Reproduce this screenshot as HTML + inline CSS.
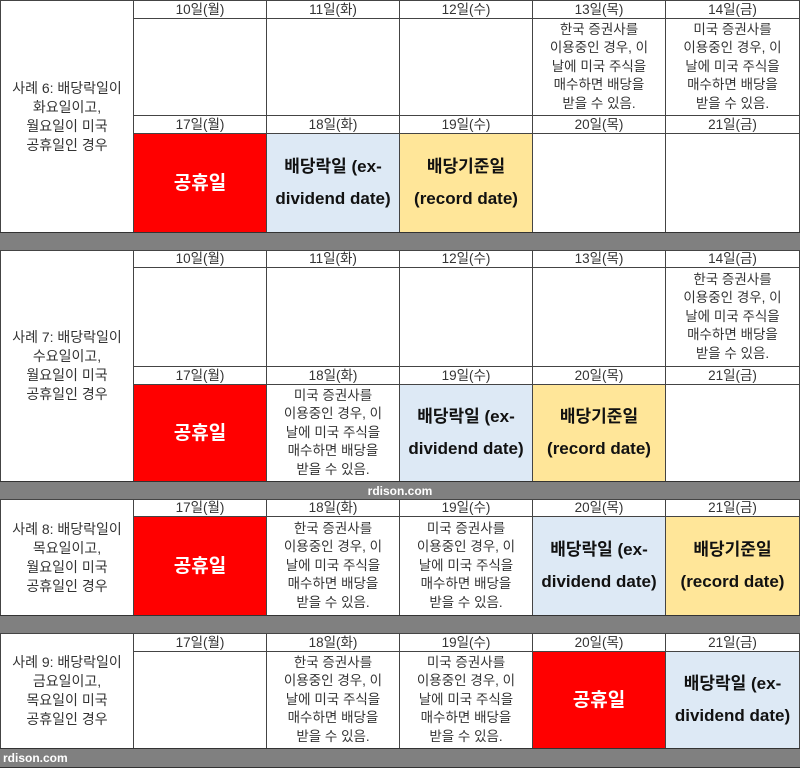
<!DOCTYPE html>
<html><head><meta charset="utf-8"><style>
*{margin:0;padding:0;box-sizing:border-box}
body{width:800px;height:768px;background:#fff;position:relative;overflow:hidden;font-family:"Liberation Sans","Noto Sans CJK KR","NanumGothic",sans-serif;color:#333}
.c{position:absolute;border:1px solid #444;display:flex;align-items:center;justify-content:center;text-align:center;font-size:14px;line-height:19px}
.h{font-size:13.5px;line-height:16px;color:#333}
.n{font-size:13.5px;line-height:18.5px;color:#333}
.red{background:#ff0000;color:#fff;font-weight:bold;font-size:19px}
.blue{background:#dde9f5;color:#111;font-weight:bold;font-size:17px;line-height:32px}
.yel{background:#ffe699;color:#111;font-weight:bold;font-size:17px;line-height:32px}
.g{position:absolute;left:0;width:800px;background:#808080;color:#fff;font-size:12px;font-weight:bold;display:flex;align-items:center;justify-content:center;border-top:1px solid #333;border-bottom:1px solid #333}
</style></head><body>

<!-- Section 1 -->
<div class="c" style="left:0;top:0;width:134px;height:233px">사례 6: 배당락일이<br>화요일이고,<br>월요일이 미국<br>공휴일인 경우</div>
<div class="c h" style="left:133px;top:0;width:134px;height:19px">10일(월)</div>
<div class="c h" style="left:266px;top:0;width:134px;height:19px">11일(화)</div>
<div class="c h" style="left:399px;top:0;width:134px;height:19px">12일(수)</div>
<div class="c h" style="left:532px;top:0;width:134px;height:19px">13일(목)</div>
<div class="c h" style="left:665px;top:0;width:135px;height:19px">14일(금)</div>
<div class="c" style="left:133px;top:18px;width:134px;height:98px"></div>
<div class="c" style="left:266px;top:18px;width:134px;height:98px"></div>
<div class="c" style="left:399px;top:18px;width:134px;height:98px"></div>
<div class="c n" style="left:532px;top:18px;width:134px;height:98px">한국 증권사를<br>이용중인 경우, 이<br>날에 미국 주식을<br>매수하면 배당을<br>받을 수 있음.</div>
<div class="c n" style="left:665px;top:18px;width:135px;height:98px">미국 증권사를<br>이용중인 경우, 이<br>날에 미국 주식을<br>매수하면 배당을<br>받을 수 있음.</div>
<div class="c h" style="left:133px;top:115px;width:134px;height:19px">17일(월)</div>
<div class="c h" style="left:266px;top:115px;width:134px;height:19px">18일(화)</div>
<div class="c h" style="left:399px;top:115px;width:134px;height:19px">19일(수)</div>
<div class="c h" style="left:532px;top:115px;width:134px;height:19px">20일(목)</div>
<div class="c h" style="left:665px;top:115px;width:135px;height:19px">21일(금)</div>
<div class="c red" style="left:133px;top:133px;width:134px;height:100px">공휴일</div>
<div class="c blue" style="left:266px;top:133px;width:134px;height:100px">배당락일 (ex-<br>dividend date)</div>
<div class="c yel" style="left:399px;top:133px;width:134px;height:100px">배당기준일<br>(record date)</div>
<div class="c" style="left:532px;top:133px;width:134px;height:100px"></div>
<div class="c" style="left:665px;top:133px;width:135px;height:100px"></div>
<div class="g" style="top:232px;height:19px"></div>

<!-- Section 2 -->
<div class="c" style="left:0;top:250px;width:134px;height:232px">사례 7: 배당락일이<br>수요일이고,<br>월요일이 미국<br>공휴일인 경우</div>
<div class="c h" style="left:133px;top:250px;width:134px;height:18px">10일(월)</div>
<div class="c h" style="left:266px;top:250px;width:134px;height:18px">11일(화)</div>
<div class="c h" style="left:399px;top:250px;width:134px;height:18px">12일(수)</div>
<div class="c h" style="left:532px;top:250px;width:134px;height:18px">13일(목)</div>
<div class="c h" style="left:665px;top:250px;width:135px;height:18px">14일(금)</div>
<div class="c" style="left:133px;top:267px;width:134px;height:100px"></div>
<div class="c" style="left:266px;top:267px;width:134px;height:100px"></div>
<div class="c" style="left:399px;top:267px;width:134px;height:100px"></div>
<div class="c" style="left:532px;top:267px;width:134px;height:100px"></div>
<div class="c n" style="left:665px;top:267px;width:135px;height:100px">한국 증권사를<br>이용중인 경우, 이<br>날에 미국 주식을<br>매수하면 배당을<br>받을 수 있음.</div>
<div class="c h" style="left:133px;top:366px;width:134px;height:19px">17일(월)</div>
<div class="c h" style="left:266px;top:366px;width:134px;height:19px">18일(화)</div>
<div class="c h" style="left:399px;top:366px;width:134px;height:19px">19일(수)</div>
<div class="c h" style="left:532px;top:366px;width:134px;height:19px">20일(목)</div>
<div class="c h" style="left:665px;top:366px;width:135px;height:19px">21일(금)</div>
<div class="c red" style="left:133px;top:384px;width:134px;height:98px">공휴일</div>
<div class="c n" style="left:266px;top:384px;width:134px;height:98px">미국 증권사를<br>이용중인 경우, 이<br>날에 미국 주식을<br>매수하면 배당을<br>받을 수 있음.</div>
<div class="c blue" style="left:399px;top:384px;width:134px;height:98px">배당락일 (ex-<br>dividend date)</div>
<div class="c yel" style="left:532px;top:384px;width:134px;height:98px">배당기준일<br>(record date)</div>
<div class="c" style="left:665px;top:384px;width:135px;height:98px"></div>
<div class="g" style="top:481px;height:19px">rdison.com</div>

<!-- Section 3 -->
<div class="c" style="left:0;top:499px;width:134px;height:117px">사례 8: 배당락일이<br>목요일이고,<br>월요일이 미국<br>공휴일인 경우</div>
<div class="c h" style="left:133px;top:499px;width:134px;height:18px">17일(월)</div>
<div class="c h" style="left:266px;top:499px;width:134px;height:18px">18일(화)</div>
<div class="c h" style="left:399px;top:499px;width:134px;height:18px">19일(수)</div>
<div class="c h" style="left:532px;top:499px;width:134px;height:18px">20일(목)</div>
<div class="c h" style="left:665px;top:499px;width:135px;height:18px">21일(금)</div>
<div class="c red" style="left:133px;top:516px;width:134px;height:100px">공휴일</div>
<div class="c n" style="left:266px;top:516px;width:134px;height:100px">한국 증권사를<br>이용중인 경우, 이<br>날에 미국 주식을<br>매수하면 배당을<br>받을 수 있음.</div>
<div class="c n" style="left:399px;top:516px;width:134px;height:100px">미국 증권사를<br>이용중인 경우, 이<br>날에 미국 주식을<br>매수하면 배당을<br>받을 수 있음.</div>
<div class="c blue" style="left:532px;top:516px;width:134px;height:100px">배당락일 (ex-<br>dividend date)</div>
<div class="c yel" style="left:665px;top:516px;width:135px;height:100px">배당기준일<br>(record date)</div>
<div class="g" style="top:615px;height:19px"></div>

<!-- Section 4 -->
<div class="c" style="left:0;top:633px;width:134px;height:116px">사례 9: 배당락일이<br>금요일이고,<br>목요일이 미국<br>공휴일인 경우</div>
<div class="c h" style="left:133px;top:633px;width:134px;height:19px">17일(월)</div>
<div class="c h" style="left:266px;top:633px;width:134px;height:19px">18일(화)</div>
<div class="c h" style="left:399px;top:633px;width:134px;height:19px">19일(수)</div>
<div class="c h" style="left:532px;top:633px;width:134px;height:19px">20일(목)</div>
<div class="c h" style="left:665px;top:633px;width:135px;height:19px">21일(금)</div>
<div class="c" style="left:133px;top:651px;width:134px;height:98px"></div>
<div class="c n" style="left:266px;top:651px;width:134px;height:98px">한국 증권사를<br>이용중인 경우, 이<br>날에 미국 주식을<br>매수하면 배당을<br>받을 수 있음.</div>
<div class="c n" style="left:399px;top:651px;width:134px;height:98px">미국 증권사를<br>이용중인 경우, 이<br>날에 미국 주식을<br>매수하면 배당을<br>받을 수 있음.</div>
<div class="c red" style="left:532px;top:651px;width:134px;height:98px">공휴일</div>
<div class="c blue" style="left:665px;top:651px;width:135px;height:98px">배당락일 (ex-<br>dividend date)</div>
<div class="g" style="top:748px;height:20px;justify-content:flex-start;padding-left:3px">rdison.com</div>
</body></html>
